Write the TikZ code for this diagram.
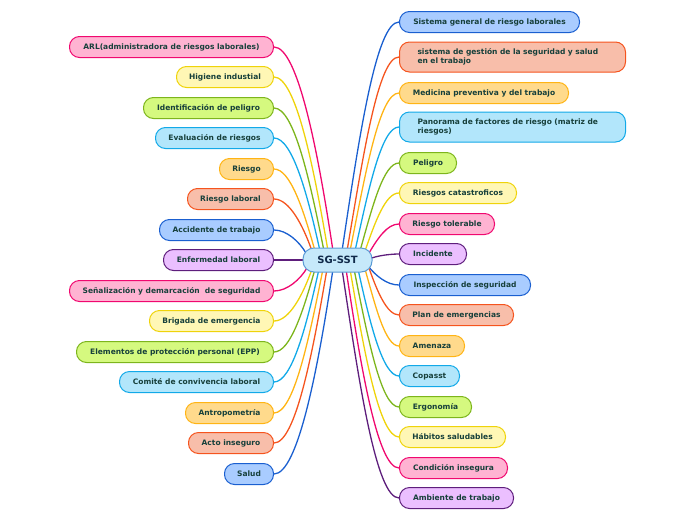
\documentclass[tikz,border=0pt]{standalone}
\usepackage{fontspec}
\setmainfont{DejaVu Sans}
\usetikzlibrary{backgrounds,calc}
\definecolor{txt}{HTML}{17403B}
\definecolor{roottxt}{HTML}{102A4A}
\definecolor{bluef}{HTML}{A9CCFF}\definecolor{blues}{HTML}{1A5FD0}
\definecolor{salf}{HTML}{F8BEAA}\definecolor{sals}{HTML}{F5541E}
\definecolor{oraf}{HTML}{FFDA8C}\definecolor{oras}{HTML}{FFB414}
\definecolor{lbf}{HTML}{B2E6FB}\definecolor{lbs}{HTML}{12A9E8}
\definecolor{grf}{HTML}{D5F97F}\definecolor{grs}{HTML}{7DB51C}
\definecolor{yef}{HTML}{FFF7B5}\definecolor{yes}{HTML}{EFD30A}
\definecolor{pif}{HTML}{FFB3D2}\definecolor{pis}{HTML}{F0086F}
\definecolor{puf}{HTML}{EBBFFF}\definecolor{pus}{HTML}{5E1E7C}
\definecolor{rootf}{HTML}{C6E9FA}\definecolor{roots}{HTML}{5B9BD5}
\tikzset{
  box/.style={rounded corners=10pt, line width=1pt, minimum height=21pt, inner sep=0pt,
    font=\bfseries\fontsize{7.5}{9}\selectfont, text=txt},
  lbox/.style={box, anchor=east},
  rbox/.style={box, anchor=west},
  cblue/.style={fill=bluef, draw=blues},
  csal/.style={fill=salf, draw=sals},
  cora/.style={fill=oraf, draw=oras},
  clb/.style={fill=lbf, draw=lbs},
  cgr/.style={fill=grf, draw=grs},
  cye/.style={fill=yef, draw=yes},
  cpi/.style={fill=pif, draw=pis},
  cpu/.style={fill=puf, draw=pus},
  conn/.style={line width=1.3pt},
  twoline/.style={text width=190pt, align=left, inner xsep=18pt, minimum height=30pt}
}
% #1 child anchor, #2,#3 entry point on root, #4 end slope, #5 colour
\newcommand{\conn}[5]{\draw[conn,#5] let \p1=(#1), \p2=(#2,#3), \n1={0.5*(\y2-\y1)}, \n2={sign(\x2-\x1)} in
  (\p1) .. controls ({\x1+0.4*(\x2-\x1)}, \y1) and ({\x2-#4*abs(\n1)*\n2}, {\y2-\n1}) .. (\p2) -- (root.center);}
\begin{document}
\begin{tikzpicture}[x=1pt,y=-1pt]
\useasboundingbox (0,0) rectangle (696,520);
\node[rounded corners=11pt, line width=1pt, fill=rootf, draw=roots, minimum width=69pt, minimum height=24pt,
  inner sep=0pt, font=\bfseries\fontsize{10}{12}\selectfont, text=roottxt] (root) at (337.5,260) {SG-SST};
% left
\node[lbox,cpi,minimum width=204pt] (l1) at (274,47) {ARL(administradora de riesgos laborales)};
\node[lbox,cye,minimum width=97pt] (l2) at (274,77) {Higiene industial};
\node[lbox,cgr,minimum width=130pt] (l3) at (274,108) {Identificación de peligro};
\node[lbox,clb,minimum width=118pt] (l4) at (274,138) {Evaluación de riesgos};
\node[lbox,cora,minimum width=54pt] (l5) at (274,169) {Riesgo};
\node[lbox,csal,minimum width=86pt] (l6) at (274,199) {Riesgo laboral};
\node[lbox,cblue,minimum width=114pt] (l7) at (274,230) {Accidente de trabajo};
\node[lbox,cpu,minimum width=110pt] (l8) at (274,260) {Enfermedad laboral};
\node[lbox,cpi,minimum width=204pt] (l9) at (274,291) {Señalización y demarcación\ \ de seguridad};
\node[lbox,cye,minimum width=124pt] (l10) at (274,321) {Brigada de emergencia};
\node[lbox,cgr,minimum width=197pt] (l11) at (274,352) {Elementos de protección personal (EPP)};
\node[lbox,clb,minimum width=154pt] (l12) at (274,382) {Comité de convivencia laboral};
\node[lbox,cora,minimum width=88pt] (l13) at (274,413) {Antropometría};
\node[lbox,csal,minimum width=85pt] (l14) at (274,443) {Acto inseguro};
\node[lbox,cblue,minimum width=49pt] (l15) at (274,474) {Salud};
% right
\node[rbox,cblue,minimum width=180pt] (r1) at (399,22) {Sistema general de riesgo laborales};
\node[rbox,csal,twoline] (r2) at (399,57) {sistema de gestión de la seguridad y salud\\en el trabajo};
\node[rbox,cora,minimum width=169pt] (r3) at (399,93) {Medicina preventiva y del trabajo};
\node[rbox,clb,twoline] (r4) at (399,127) {Panorama de factores de riesgo (matriz de\\riesgos)};
\node[rbox,cgr,minimum width=57pt] (r5) at (399,163) {Peligro};
\node[rbox,cye,minimum width=117pt] (r6) at (399,193) {Riesgos catastroficos};
\node[rbox,cpi,minimum width=95pt] (r7) at (399,224) {Riesgo tolerable};
\node[rbox,cpu,minimum width=67pt] (r8) at (399,254) {Incidente};
\node[rbox,cblue,minimum width=131pt] (r9) at (399,285) {Inspección de seguridad};
\node[rbox,csal,minimum width=114pt] (r10) at (399,315) {Plan de emergencias};
\node[rbox,cora,minimum width=65pt] (r11) at (399,346) {Amenaza};
\node[rbox,clb,minimum width=60pt] (r12) at (399,376) {Copasst};
\node[rbox,cgr,minimum width=72pt] (r13) at (399,407) {Ergonomía};
\node[rbox,cye,minimum width=106pt] (r14) at (399,437) {Hábitos saludables};
\node[rbox,cpi,minimum width=108pt] (r15) at (399,468) {Condición insegura};
\node[rbox,cpu,minimum width=114pt] (r16) at (399,498) {Ambiente de trabajo};
\begin{scope}[on background layer]
% left top
\conn{l1.east}{333}{251}{0.15}{pis}
\conn{l2.east}{328}{251}{0.17}{yes}
\conn{l3.east}{324}{251}{0.2}{grs}
\conn{l4.east}{320}{251}{0.22}{lbs}
\conn{l5.east}{315}{251}{0.28}{oras}
\conn{l6.east}{312}{251}{0.35}{sals}
\conn{l7.east}{306}{253}{0.6}{blues}
\draw[conn,pus] (l8.east) -- (root.center);
% left bottom
\conn{l9.east}{307}{268}{0.6}{pis}
\conn{l10.east}{312}{269}{0.35}{yes}
\conn{l11.east}{315}{269}{0.28}{grs}
\conn{l12.east}{319}{269}{0.22}{lbs}
\conn{l13.east}{323}{269}{0.2}{oras}
\conn{l14.east}{327}{269}{0.17}{sals}
\conn{l15.east}{333}{269}{0.15}{blues}
% right top
\conn{r1.west}{342}{251}{0.15}{blues}
\conn{r2.west}{347}{251}{0.17}{sals}
\conn{r3.west}{350}{251}{0.2}{oras}
\conn{r4.west}{355}{251}{0.22}{lbs}
\conn{r5.west}{360}{251}{0.28}{grs}
\conn{r6.west}{365}{251}{0.35}{yes}
\conn{r7.west}{369}{253}{0.6}{pis}
\conn{r8.west}{368}{260}{1}{pus}
% right bottom
\conn{r9.west}{368}{266}{0.8}{blues}
\conn{r10.west}{369}{268}{0.35}{sals}
\conn{r11.west}{365}{269}{0.28}{oras}
\conn{r12.west}{358}{269}{0.22}{lbs}
\conn{r13.west}{354}{269}{0.2}{grs}
\conn{r14.west}{350}{269}{0.17}{yes}
\conn{r15.west}{346}{269}{0.15}{pis}
\conn{r16.west}{342}{269}{0.15}{pus}
\end{scope}
\end{tikzpicture}
\end{document}
